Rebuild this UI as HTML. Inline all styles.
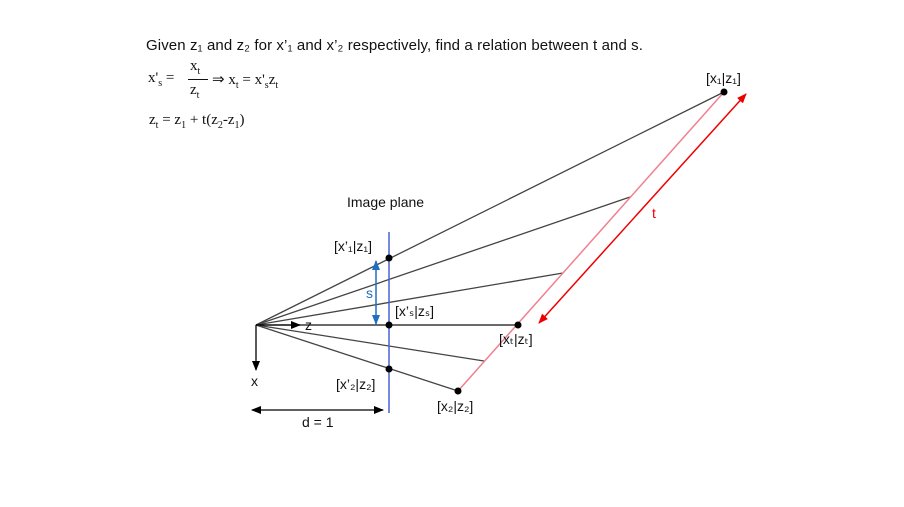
<!DOCTYPE html><html><head><style>body{margin:0;background:#fff;width:904px;height:507px;overflow:hidden;font-family:"Liberation Sans",sans-serif}
.t{position:absolute;font-size:14px;color:#111;white-space:nowrap}
.m{font-family:"Liberation Serif",serif;font-size:15px}</style></head><body>
<div class="t" style="left:146px;top:37px;font-size:15px;letter-spacing:0.1px">Given z₁ and z₂ for x’₁ and x’₂ respectively, find a relation between t and s.</div>
<div class="t m" style="left:148px;top:70px">x'<sub style="font-size:10px">s</sub> =</div>
<div class="t m" style="left:190px;top:58px">x<sub style="font-size:10px">t</sub></div>
<div style="position:absolute;left:188px;top:79px;width:20px;border-top:1px solid #111"></div>
<div class="t m" style="left:190px;top:82px">z<sub style="font-size:10px">t</sub></div>
<div class="t m" style="left:212px;top:70px">⇒ x<sub style="font-size:10px">t</sub> = x'<sub style="font-size:10px">s</sub>z<sub style="font-size:10px">t</sub></div>
<div class="t m" style="left:149px;top:112px">z<sub style="font-size:10px">t</sub> = z<sub style="font-size:10px">1</sub> + t(z<sub style="font-size:10px">2</sub>-z<sub style="font-size:10px">1</sub>)</div>
<svg width="904" height="507" style="position:absolute;left:0;top:0">
<defs>
<marker id="k" markerWidth="10" markerHeight="8" refX="9" refY="4" orient="auto-start-reverse" markerUnits="userSpaceOnUse"><path d="M0,0L10,4L0,8z" fill="#000"/></marker>
<marker id="r" markerWidth="10" markerHeight="8" refX="9" refY="4" orient="auto-start-reverse" markerUnits="userSpaceOnUse"><path d="M0,0L10,4L0,8z" fill="#e00"/></marker>
<marker id="b" markerWidth="10" markerHeight="8" refX="9" refY="4" orient="auto-start-reverse" markerUnits="userSpaceOnUse"><path d="M0,0L10,4L0,8z" fill="#1f6fc0"/></marker>
</defs>
<g stroke="#444" stroke-width="1.3">
<line x1="256" y1="325" x2="724" y2="92"/>
<line x1="256" y1="325" x2="630" y2="197"/>
<line x1="256" y1="325" x2="563" y2="273"/>
<line x1="256" y1="325" x2="518" y2="325" stroke="#111"/>
<line x1="256" y1="325" x2="484" y2="361"/>
<line x1="256" y1="325" x2="458" y2="391"/>
</g>
<line x1="389" y1="232" x2="389" y2="413" stroke="#4a63d8" stroke-width="1.5"/>
<line x1="458" y1="391" x2="724" y2="92" stroke="#f08090" stroke-width="1.5"/>
<line x1="539" y1="323" x2="746" y2="94" stroke="#e00" stroke-width="1.5" marker-start="url(#r)" marker-end="url(#r)"/>
<line x1="376" y1="261" x2="376" y2="324" stroke="#1f6fc0" stroke-width="1.5" marker-start="url(#b)" marker-end="url(#b)"/>
<line x1="256" y1="325" x2="300" y2="325" stroke="#000" stroke-width="1.3" marker-end="url(#k)"/>
<line x1="256" y1="325" x2="256" y2="370" stroke="#000" stroke-width="1.3" marker-end="url(#k)"/>
<line x1="252" y1="410" x2="383" y2="410" stroke="#000" stroke-width="1.3" marker-start="url(#k)" marker-end="url(#k)"/>
<g fill="#000"><circle cx="389" cy="258" r="3.5"/><circle cx="389" cy="325" r="3.5"/><circle cx="389" cy="369" r="3.5"/><circle cx="518" cy="325" r="3.5"/><circle cx="458" cy="391" r="3.5"/><circle cx="724" cy="92" r="3.5"/></g>
</svg>
<div class="t" style="left:347px;top:194px">Image plane</div>
<div class="t" style="left:334px;top:238px">[x’₁|z₁]</div>
<div class="t" style="left:395px;top:303px">[x’ₛ|zₛ]</div>
<div class="t" style="left:336px;top:376px">[x’₂|z₂]</div>
<div class="t" style="left:437px;top:398px">[x₂|z₂]</div>
<div class="t" style="left:499px;top:331px">[xₜ|zₜ]</div>
<div class="t" style="left:706px;top:70px">[x₁|z₁]</div>
<div class="t" style="left:366px;top:285px;color:#1f6fc0">s</div>
<div class="t" style="left:305px;top:317px">z</div>
<div class="t" style="left:251px;top:373px">x</div>
<div class="t" style="left:302px;top:414px">d = 1</div>
<div class="t" style="left:652px;top:205px;color:#e00">t</div>
</body></html>
